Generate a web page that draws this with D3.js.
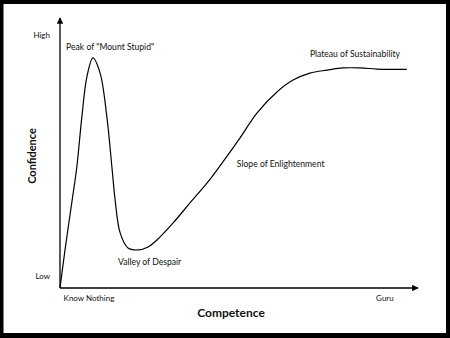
<!DOCTYPE html>
<html>
<head>
<meta charset="utf-8">
<script src="https://cdn.jsdelivr.net/npm/d3@7"></script>
<style>
  html, body { margin: 0; padding: 0; background: #000; }
  text { font-family: Lato, "Open Sans", sans-serif; fill: #111; }
</style>
</head>
<body>
<div id="container"></div>
<script>
// competence (0-100) vs confidence (0-100)
const competence = [0, 1.4, 3.4, 4.7, 6.1, 7.5, 9.2, 11.2, 13.1, 14.5, 15.4, 16.8, 19.0, 21.8, 24.6, 27.1, 31.6, 36.3, 41.1, 45.5, 50.3, 55.0, 60.6, 65.1, 69.8, 74.6, 79.1, 83.8, 88.5, 93.0, 96.9]
const confidence = [0, 14.1, 32.6, 44.8, 63.3, 78.1, 85.2, 79.6, 63.3, 44.8, 32.6, 20.4, 14.8, 14.1, 15.2, 17.8, 24.1, 31.5, 38.9, 46.7, 55.6, 64.8, 72.6, 77.0, 79.6, 80.7, 81.5, 81.5, 81.1, 81.0, 81.0]

const xTickLabels = ['Know Nothing', 'Guru']
const yTickLabels = ['Low', 'High']

const stageNames = ['Peak of "Mount Stupid"', 'Valley of Despair', 'Slope of Enlightenment', 'Plateau of Sustainability']

const w = 450
const h = 338

const svg = d3.select('#container')
  .append('svg')
  .attr('width', w)
  .attr('height', h)

// white page inside the black frame
svg.append('rect')
  .attr('x', 3.5)
  .attr('y', 4)
  .attr('width', 442.5)
  .attr('height', 329)
  .attr('fill', '#fff')

const x = d3.scaleLinear().domain([0, 100]).range([60, 418])
const y = d3.scaleLinear().domain([0, 100]).range([288, 18])

const defs = svg.append('defs')
defs.append('marker')
  .attr('id', 'arrow')
  .attr('viewBox', '0 0 10 10')
  .attr('refX', 9)
  .attr('refY', 5)
  .attr('markerWidth', 5)
  .attr('markerHeight', 5)
  .attr('orient', 'auto')
  .append('path')
  .attr('d', 'M0,0 L10,5 L0,10 z')
  .attr('fill', '#000')

// axes as arrows
svg.append('line')
  .attr('x1', x(0)).attr('y1', y(0))
  .attr('x2', x(100)).attr('y2', y(0))
  .attr('stroke', '#000')
  .attr('stroke-width', 1.3)
  .attr('marker-end', 'url(#arrow)')

svg.append('line')
  .attr('x1', x(0)).attr('y1', y(0))
  .attr('x2', x(0)).attr('y2', y(100))
  .attr('stroke', '#000')
  .attr('stroke-width', 1.3)
  .attr('marker-end', 'url(#arrow)')

const points = competence.map((c, i) => [c, confidence[i]])

const line = d3.line()
  .x((d) => x(d[0]))
  .y((d) => y(d[1]))
  .curve(d3.curveCatmullRom.alpha(0.5))

svg.append('path')
  .datum(points)
  .attr('d', line)
  .attr('fill', 'none')
  .attr('stroke', '#000')
  .attr('stroke-width', 1.2)

// end labels on the axes
svg.selectAll('.xtick')
  .data(xTickLabels)
  .enter()
  .append('text')
  .attr('class', 'xtick')
  .attr('x', (d, i) => i === 0 ? x(1) : x(88.3))
  .attr('y', y(0) + 13)
  .attr('font-size', 8)
  .text((d) => d)

svg.selectAll('.ytick')
  .data(yTickLabels)
  .enter()
  .append('text')
  .attr('class', 'ytick')
  .attr('x', x(0) - 10)
  .attr('y', (d, i) => i === 0 ? y(3.3) : y(92.6))
  .attr('text-anchor', 'end')
  .attr('font-size', 8)
  .text((d) => d)

// stage annotations
const stageAt = [[1.7, 88], [16.2, 8.5], [49.4, 45], [69.8, 85.5]]
svg.selectAll('.stage')
  .data(stageNames)
  .enter()
  .append('text')
  .attr('class', 'stage')
  .attr('x', (d, i) => x(stageAt[i][0]))
  .attr('y', (d, i) => y(stageAt[i][1]))
  .attr('font-size', 8.6)
  .text((d) => d)

// axis titles
svg.append('text')
  .attr('x', 231)
  .attr('y', 317)
  .attr('text-anchor', 'middle')
  .attr('font-size', 12)
  .attr('font-weight', 'bold')
  .text('Competence')

svg.append('text')
  .attr('transform', 'translate(36,156) rotate(-90)')
  .attr('text-anchor', 'middle')
  .attr('font-size', 11)
  .attr('font-weight', 'bold')
  .text('Confidence')
</script>
</body>
</html>
